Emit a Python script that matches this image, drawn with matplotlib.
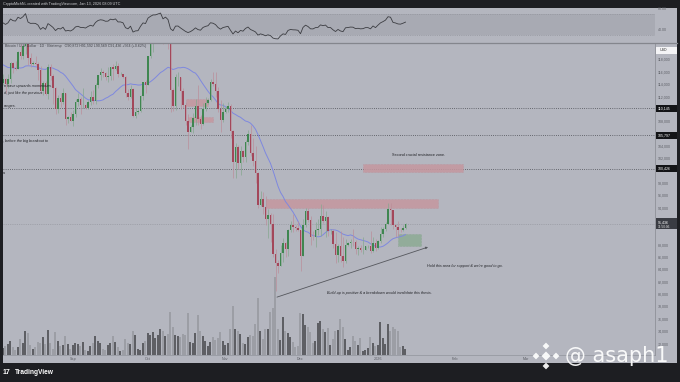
import matplotlib
matplotlib.use("Agg")
import matplotlib.pyplot as plt
import matplotlib.dates as mdates
from matplotlib.patches import Rectangle, RegularPolygon
from matplotlib.transforms import IdentityTransform
import numpy as np
import pandas as pd

plt.rcParams["font.family"] = ["Liberation Sans", "DejaVu Sans"]

W, H = 680, 382
BG = "#b4b6bf"
FRAME = "#1d1e22"

# BTC/USD daily, in thousands of USD (Bitstamp, 1D)
# closes before the visible window, only used to warm up the MA20 and RSI14
warmup_close = [117.7, 118.7, 119.3, 117.9, 117.9, 117.3, 117.4, 119.9, 118.7, 118.3,
                117.6, 117.9, 119.4, 118.0, 117.8, 117.8, 115.7, 113.3, 112.5, 114.2]

first_day = "2025-08-04"
close_aug = [114.9, 114.1, 115.0, 117.5, 116.7, 116.5, 119.3, 118.7, 120.2, 123.3, 118.4, 117.4, 117.5, 117.4,
             116.3, 112.9, 114.2, 112.5, 116.9, 115.4, 113.5, 110.1, 111.8, 111.2, 112.6, 108.4, 108.8, 108.2]
high_aug = [115.7, 115.1, 115.7, 117.7, 117.7, 117.9, 119.4, 122.3, 120.3, 123.7, 124.4, 119.2, 117.9, 118.6,
            117.6, 117.0, 114.6, 114.6, 117.4, 117.4, 115.7, 113.6, 112.4, 112.6, 113.5, 112.6, 108.9, 109.5]
low_aug = [114.0, 112.7, 113.4, 114.3, 115.9, 116.3, 116.5, 118.1, 118.2, 118.9, 117.2, 116.8, 117.2, 117.2,
           114.7, 112.7, 112.4, 112.4, 111.7, 114.8, 110.9, 109.3, 109.4, 110.4, 110.9, 107.5, 107.8, 108.1]

close_sep = [109.2, 111.2, 111.7, 110.7, 110.7, 110.2, 111.2, 112.0, 111.4, 113.9, 115.5, 116.1, 115.9, 115.3, 115.4,
             116.8, 116.5, 117.1, 115.7, 115.7, 115.3, 112.7, 112.0, 113.3, 109.0, 109.6, 109.7, 112.1, 114.4, 114.0]
high_sep = [109.9, 111.7, 112.6, 112.0, 113.4, 110.9, 111.6, 112.9, 113.2, 114.3, 115.6, 116.7, 116.4, 116.1, 116.8,
            116.9, 117.3, 117.9, 117.5, 116.1, 115.8, 115.4, 113.3, 113.9, 113.4, 110.3, 110.0, 112.3, 114.5, 114.8]
low_sep = [107.3, 108.8, 110.6, 109.3, 110.2, 110.0, 110.1, 110.7, 110.8, 110.9, 113.4, 114.8, 115.2, 114.8, 114.4,
           114.8, 114.8, 116.4, 115.2, 115.5, 115.1, 112.0, 111.6, 111.8, 108.7, 108.6, 109.2, 109.5, 111.6, 112.7]

close_oct = [118.6, 120.6, 122.3, 122.4, 123.5, 124.7, 121.4, 123.3, 121.7, 113.2, 110.6, 115.2, 115.3, 113.0, 110.7,
             108.2, 106.4, 107.2, 108.6, 110.5, 108.4, 107.6, 110.0, 111.0, 111.6, 114.5, 114.1, 112.9, 110.1, 108.3, 109.6]
high_oct = [118.7, 121.0, 123.9, 122.9, 125.7, 126.2, 125.1, 124.1, 123.8, 122.5, 113.4, 115.8, 116.0, 115.3, 113.5,
            111.2, 109.2, 107.5, 109.4, 111.7, 114.0, 109.1, 111.0, 112.0, 111.9, 115.0, 116.1, 116.0, 113.6, 111.6, 111.1]
low_oct = [113.9, 118.3, 119.3, 121.6, 122.1, 123.1, 120.6, 121.1, 119.7, 109.5, 109.7, 109.9, 113.8, 110.0, 110.3,
           107.5, 103.6, 106.3, 106.1, 107.5, 107.4, 106.8, 107.5, 109.7, 110.9, 111.3, 113.8, 112.0, 109.6, 106.3, 108.0]

close_nov = [110.1, 110.6, 106.5, 101.5, 103.9, 101.3, 103.3, 102.3, 104.7, 106.0, 103.0, 101.6, 99.7, 94.5, 95.5,
             94.2, 92.2, 92.9, 91.5, 86.6, 85.1, 84.7, 86.8, 88.3, 87.4, 90.5, 91.3, 90.9, 90.8, 90.4]
high_nov = [110.6, 111.2, 110.8, 106.6, 104.5, 104.2, 104.0, 103.4, 105.0, 106.6, 107.5, 105.3, 104.0, 99.8, 96.8,
            96.6, 96.0, 93.8, 93.2, 93.1, 87.4, 85.6, 88.1, 89.2, 88.5, 90.6, 91.9, 93.1, 91.2, 92.0]
low_nov = [109.4, 109.5, 105.3, 98.9, 98.9, 100.3, 99.3, 101.4, 101.5, 104.3, 102.5, 100.8, 98.0, 94.0, 94.3,
           93.0, 91.2, 89.2, 88.6, 86.1, 80.6, 83.5, 84.6, 85.3, 86.1, 86.3, 90.1, 90.2, 90.3, 90.3]

close_dec = [86.3, 91.3, 93.5, 92.1, 89.4, 89.3, 90.4, 90.6, 92.7, 92.0, 92.5, 90.3, 90.3, 88.2, 86.4, 87.8,
             86.2, 85.5, 88.1, 88.3, 88.6, 88.5, 87.4, 87.6, 87.2, 87.3, 87.8, 87.8, 87.1, 88.4, 87.5]
high_dec = [90.4, 92.3, 94.1, 94.0, 92.7, 90.3, 91.7, 92.3, 94.6, 94.5, 93.5, 92.7, 90.6, 90.6, 90.1, 88.2,
            90.3, 89.4, 89.0, 88.5, 89.0, 90.6, 88.9, 87.9, 88.0, 89.4, 87.9, 88.0, 90.3, 89.3, 89.0]
low_dec = [83.8, 86.2, 91.0, 91.7, 88.1, 88.9, 87.7, 89.6, 89.5, 91.6, 89.3, 89.5, 89.8, 87.6, 85.2, 85.3,
           85.3, 84.5, 85.1, 87.9, 87.6, 87.9, 86.6, 86.4, 86.9, 86.6, 87.3, 87.5, 86.8, 86.9, 87.1]

close_jan = [88.7, 89.9, 90.6, 91.5, 93.9, 93.7, 91.3, 91.0, 90.5, 90.4, 90.872, 91.436]
high_jan = [88.8, 90.9, 91.0, 91.8, 94.8, 94.8, 93.7, 91.5, 91.9, 90.8, 91.2, 91.592]
low_jan = [87.4, 88.3, 89.3, 90.3, 91.4, 91.3, 90.6, 89.3, 89.5, 90.1, 90.3, 90.569]

# volume, thousand BTC
vol_aug = [0.7, 0.9, 1.1, 1.4, 0.8, 0.5, 0.8, 1.6, 1.2, 2.4, 2.2, 1.0, 0.6, 0.8, 1.3, 1.2, 1.8, 1.1, 2.5, 1.2,
           0.6, 2.3, 1.4, 0.9, 1.0, 1.9, 1.1, 0.6]
vol_sep = [1.0, 1.2, 1.1, 0.9, 1.3, 0.5, 0.4, 0.9, 1.2, 1.9, 1.4, 1.2, 0.6, 0.5, 1.0, 1.2, 1.9, 1.3, 0.8, 0.4,
           0.5, 1.6, 1.2, 1.1, 2.4, 2.0, 0.6, 0.5, 1.2, 1.4]
vol_oct = [2.2, 2.0, 2.3, 1.7, 2.0, 2.6, 2.4, 1.9, 2.1, 4.3, 2.8, 2.0, 1.9, 1.8, 2.1, 2.0, 4.2, 1.3, 1.2, 2.2,
           4.0, 2.4, 1.9, 1.4, 0.9, 1.3, 1.8, 1.5, 1.7, 2.3, 1.4]
vol_nov = [1.0, 1.2, 2.6, 4.9, 2.6, 2.4, 2.1, 1.2, 1.1, 1.8, 2.0, 1.9, 3.1, 5.7, 2.4, 1.6, 2.6, 2.6, 4.3, 4.7,
           7.8, 2.6, 1.5, 3.8, 2.4, 2.2, 1.8, 1.3, 0.8, 0.9]
vol_dec = [4.2, 4.1, 3.0, 2.8, 2.3, 1.2, 1.4, 3.2, 3.4, 2.6, 2.3, 2.7, 1.0, 1.6, 2.4, 2.5, 3.6, 2.8, 1.6, 0.5,
           0.8, 1.9, 1.4, 1.0, 1.7, 0.4, 0.5, 0.7, 1.8, 1.2, 0.9]
vol_jan = [1.0, 3.3, 1.7, 1.1, 3.1, 2.4, 2.8, 2.6, 2.4, 0.8, 0.9, 0.6]

# drawn levels and zones (thousand USD)
level_prices = [110.145, 105.797, 100.426]
last_price = 91.436
zone_a = ("2025-10-16", "2025-10-25", 110.6, 111.7)
zone_b = ("2025-10-17", "2025-10-27", 107.9, 108.8)
resistance_1 = ("2025-11-17", "2026-01-25", 94.0, 95.5)
resistance_2 = ("2025-12-26", "2026-02-04", 99.9, 101.2)
support_zone = ("2026-01-09", "2026-01-18", 87.9, 89.8)
trend_start = ("2025-11-21 14:00", 79.6)
trend_end = ("2026-01-21", 87.7)

month_ticks = ["2025-09-01", "2025-10-01", "2025-11-01", "2025-12-01", "2026-01-01",
               "2026-02-01", "2026-03-01"]
month_labels = ["Sep", "Oct", "Nov", "Dec", "2026", "Feb", "Mar"]
price_ticks = list(range(72000, 120000, 2000))


def box(x0, y0, x1, y1):
    return [x0 / W, 1 - y1 / H, (x1 - x0) / W, (y1 - y0) / H]


def fxy(x, y):
    return x / W, 1 - y / H


def d(s):
    return mdates.date2num(pd.Timestamp(s))


close = close_aug + close_sep + close_oct + close_nov + close_dec + close_jan
high = np.array(high_aug + high_sep + high_oct + high_nov + high_dec + high_jan)
low = np.array(low_aug + low_sep + low_oct + low_nov + low_dec + low_jan)
vol = np.array(vol_aug + vol_sep + vol_oct + vol_nov + vol_dec + vol_jan)
dates = pd.date_range(first_day, periods=len(close), freq="D")
x = mdates.date2num(dates)

series = pd.Series(warmup_close + close)
n0 = len(warmup_close)
opn = series.shift(1).to_numpy()[n0:]
cls = np.array(close)
ma20 = series.rolling(20).mean().to_numpy()[n0:]
delta = series.diff()
gain = delta.clip(lower=0).ewm(alpha=1 / 14, adjust=False).mean()
loss = (-delta.clip(upper=0)).ewm(alpha=1 / 14, adjust=False).mean()
rsi = (100 - 100 / (1 + gain / loss)).to_numpy()[n0:]

up = cls >= opn
xmin = d(first_day)
xmax = xmin + 652 / 2.5
ymin, ymax = 70.228, 120.75

fig = plt.figure(figsize=(W / 100, H / 100), dpi=100, facecolor=FRAME)
fig.add_artist(Rectangle(fxy(3, 363), 674 / W, 355 / H, transform=fig.transFigure,
                         facecolor=BG, edgecolor="none", zorder=0))

# RSI pane
ax_rsi = fig.add_axes(box(3, 8, 655, 42), facecolor=BG)
ax_rsi.axhspan(30, 70, color="#a8aab3", lw=0)
for lvl in (30, 70):
    ax_rsi.axhline(lvl, color="#8b8d95", lw=0.4, ls=(0, (2, 2)))
ax_rsi.plot(x, rsi, color="#3c3d42", lw=0.6)
ax_rsi.set_xlim(xmin, xmax)
ax_rsi.set_ylim(16.8, 82.5)
ax_rsi.set_xticks([])
ax_rsi.set_yticks([])
for s in ax_rsi.spines.values():
    s.set_visible(False)

ax_rsi_pr = fig.add_axes(box(655, 8, 677, 42), facecolor=BG)
ax_rsi_pr.set_ylim(16.8, 82.5)
ax_rsi_pr.set_xlim(0, 1)
for v in (80, 40):
    ax_rsi_pr.text(0.14, v, f"{v:.2f}", fontsize=2.6, color="#5d5f66", va="center")
ax_rsi_pr.axis("off")

# volume (behind the candles)
ax_vol = fig.add_axes(box(3, 43, 655, 355), facecolor=BG)
ax_vol.bar(x, vol, width=0.8, color=np.where(up, "#5e5f64", "#9c9ea5"), lw=0)
ax_vol.set_xlim(xmin, xmax)
ax_vol.set_ylim(0, 31.3)
ax_vol.set_yticks([])
ax_vol.set_xticks([d(t) for t in month_ticks])
ax_vol.set_xticklabels(month_labels, fontsize=2.7, color="#5d5f66")
ax_vol.tick_params(axis="x", length=0, pad=1.6)
for k, s in ax_vol.spines.items():
    s.set_visible(k == "bottom")
ax_vol.spines["bottom"].set_color("#979aa2")
ax_vol.spines["bottom"].set_linewidth(0.6)

# price pane
ax = fig.add_axes(box(3, 43, 655, 355), facecolor="none")
ax.set_xlim(xmin, xmax)
ax.set_ylim(ymin, ymax)
ax.axis("off")

for p in level_prices:
    ax.axhline(p, color="#4c4e55", lw=0.6, ls=(0, (1, 1.6)), zorder=1)
ax.axhline(last_price, color="#8e9098", lw=0.4, ls=(0, (2, 2)), zorder=1)

for z in (zone_a, zone_b, resistance_1, resistance_2):
    ax.add_patch(Rectangle((d(z[0]), z[2]), d(z[1]) - d(z[0]), z[3] - z[2],
                           facecolor="#c5979f", edgecolor="#b98791", lw=0.4, ls=":", alpha=0.85, zorder=2))
ax.add_patch(Rectangle((d(support_zone[0]), support_zone[2]), d(support_zone[1]) - d(support_zone[0]),
                       support_zone[3] - support_zone[2], facecolor="#8fab96", edgecolor="#7f9c87",
                       lw=0.4, ls=":", alpha=0.9, zorder=2))

ax.plot(x, ma20, color="#7e88df", lw=0.7, zorder=3)
ax.vlines(x, low, high, colors=np.where(up, "#86a78f", "#bb8f9a"), lw=0.5, zorder=4)
body = np.where(np.abs(cls - opn) < 0.08, 0.08, cls - opn)
ax.bar(x, body, bottom=opn, width=0.66, color=np.where(up, "#3f8650", "#a3475a"), lw=0, zorder=5)

ax.annotate("", xy=(d(trend_end[0]), trend_end[1]), xytext=(d(trend_start[0]), trend_start[1]),
            arrowprops=dict(arrowstyle="-|>", color="#55575d", lw=0.6, mutation_scale=3,
                            shrinkA=0, shrinkB=0), zorder=6)

# price scale
ax_pr = fig.add_axes(box(655, 43, 677, 355), facecolor=BG)
ax_pr.set_ylim(ymin, ymax)
ax_pr.set_xlim(0, 1)
ax_pr.set_xticks([])
ax_pr.set_yticks([])
for k, s in ax_pr.spines.items():
    s.set_visible(k == "left")
ax_pr.spines["left"].set_color("#8e9098")
ax_pr.spines["left"].set_linewidth(0.6)
hh = 3.2 * (ymax - ymin) / 312
label_boxes = level_prices + [last_price]
for t in price_ticks:
    # the scale hides tick labels sitting under a price tag
    if min(abs(t / 1000 - p) for p in label_boxes) < 1.9 * hh + 0.5:
        continue
    ax_pr.text(0.13, t / 1000, f"{t:,}", fontsize=2.6, color="#5d5f66", va="center")
for p in level_prices:
    ax_pr.add_patch(Rectangle((0.04, p - hh), 0.96, 2 * hh, facecolor="#131417", lw=0, zorder=3))
    ax_pr.text(0.12, p, f"{p * 1000:,.0f}", fontsize=2.6, color="white", va="center", zorder=4)
ax_pr.add_patch(Rectangle((0.04, last_price - 1.6 * hh), 0.96, 3.4 * hh, facecolor="#3a3c43", lw=0, zorder=3))
ax_pr.text(0.12, last_price + 0.35 * hh, f"{last_price * 1000:,.0f}", fontsize=2.6, color="white",
           va="center", zorder=4)
ax_pr.text(0.12, last_price - 0.9 * hh, "11:50:06", fontsize=2.3, color="#e5e5e5", va="center", zorder=4)
ax_pr.add_patch(Rectangle((0.04, 0.965), 0.96, 0.022, transform=ax_pr.transAxes,
                          facecolor="#f4f4f6", lw=0, zorder=3))
ax_pr.text(0.2, 0.976, "USD", transform=ax_pr.transAxes, fontsize=2.6, color="#333",
           va="center", zorder=4)

# separator between RSI and price panes
fig.add_artist(plt.Line2D([3 / W, 677 / W], [1 - 42.6 / H] * 2, color="#84868d", lw=0.9))

# texts
small = dict(fontsize=2.7, color="#202125", va="center")
fig.text(*fxy(3, 4), "CryptoMichNL created with TradingView.com, Jan 13, 2026 08:09 UTC",
         fontsize=2.7, color="#cfd0d4", va="center")
fig.text(*fxy(5, 46.5), "Bitcoin / U.S. Dollar · 1D · Bitstamp   O90,872 H91,592 L90,569 C91,436 +564 (+0.62%)",
         fontsize=2.6, color="#3e4046", va="center", zorder=7)
fig.text(*fxy(4, 86), "n have upwards momentum.", style="italic", **small)
fig.text(*fxy(4, 93), "d, just like the previous", style="italic", **small)
fig.text(*fxy(4, 106), "ranges.", style="italic", **small)
fig.text(*fxy(3, 141), ", before the big breakout to", style="italic", **small)
fig.text(*fxy(3, 173), "n.", style="italic", **small)
fig.text(*fxy(392, 155), "Second crucial resistance zone.", **small)
fig.text(*fxy(427, 266), "Hold this area for support & we're good to go.", style="italic", **small)
fig.text(*fxy(327, 293), "Build-up is positive & a breakdown would invalidate this thesis.",
         style="italic", **small)

# bottom bar
fig.text(*fxy(3, 373), "17", fontsize=5, color="white", weight="bold", va="center")
fig.text(*fxy(15, 373), "TradingView", fontsize=4.8, color="white", weight="semibold", va="center")

# watermark
cx, cy = 546, H - 356
for dx, dy, r in [(0, 0, 4.5), (-10, 0, 3.4), (10, 0, 3.4), (0, 10, 3.4), (0, -10, 3.4)]:
    fig.add_artist(RegularPolygon((cx + dx, cy + dy), numVertices=4, radius=r, orientation=0,
                                  transform=IdentityTransform(), facecolor="white", alpha=0.92, lw=0))
fig.text(*fxy(565, 356), "@ asaph1", fontsize=15, color="white", alpha=0.92, va="center",
         family="DejaVu Sans")

fig.savefig("out.png", dpi=100, facecolor=FRAME)
